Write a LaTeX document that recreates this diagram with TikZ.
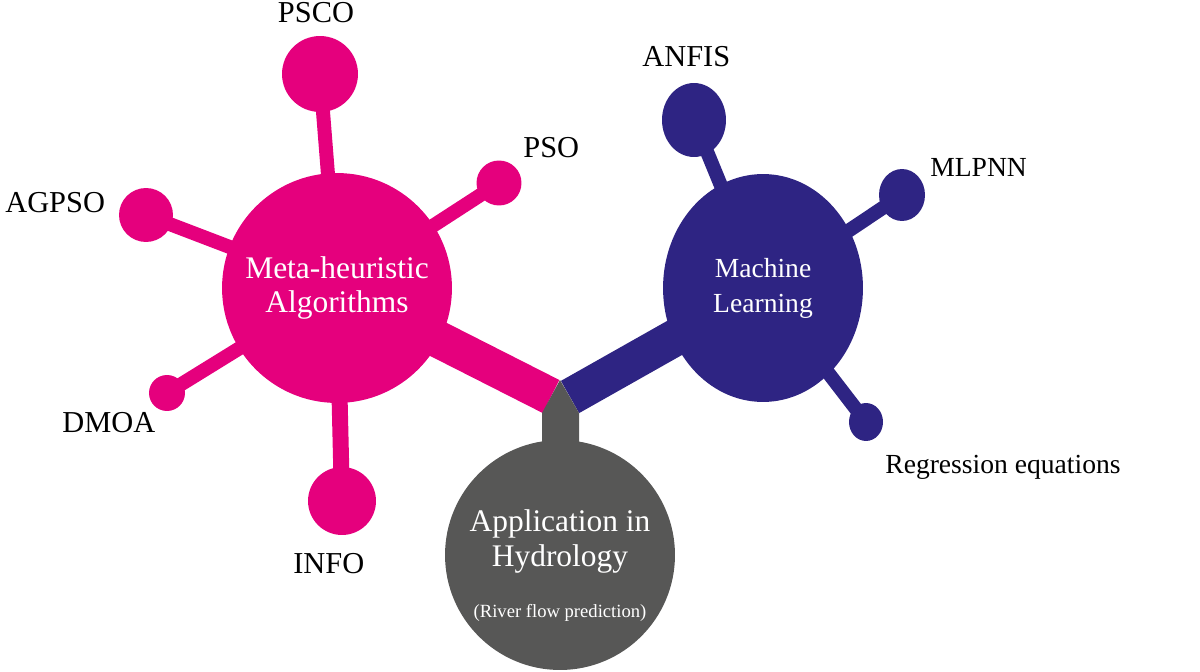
\documentclass[tikz,border=0pt]{standalone}
\usepackage{fontspec}
\setmainfont{Liberation Serif}
\usetikzlibrary{shapes.geometric}
\definecolor{pinkc}{HTML}{E5007D}
\definecolor{bluec}{HTML}{2E2483}
\definecolor{grayc}{HTML}{575756}
\pgfdeclarelayer{bg}
\pgfsetlayers{bg,main}
\newcommand{\txtbig}{\fontsize{17.9}{19.9}\selectfont}
\newcommand{\txtlbl}{\fontsize{17.3}{20}\selectfont}
\newcommand{\txtmid}{\fontsize{15.7}{19.9}\selectfont}
\newcommand{\txtsmall}{\fontsize{10.6}{12}\selectfont}

\begin{document}
\begin{tikzpicture}[x=0.02cm,y=-0.02cm,
  pdot/.style={circle,fill=pinkc,inner sep=0pt,minimum size=#1*0.04cm},
  bdot/.style 2 args={ellipse,fill=bluec,inner sep=0pt,minimum width=#1*0.04cm,minimum height=#2*0.04cm},
  stem/.style={line width=0.28cm},
  bar/.style={line width=0.74cm},
  lbl/.style={inner sep=0pt,font=\txtlbl},
  lblsm/.style={inner sep=0pt,font=\txtmid}]
\useasboundingbox (0,0) rectangle (1200,672);

% main hubs
\node[pdot=115,text=white,align=center,font=\txtbig] (meta) at (337,288) {Meta-heuristic\\Algorithms};
\node[bdot={100}{114},text=white,align=center,font=\txtmid] (ml) at (763,288) {Machine\\Learning};
\node[circle,fill=grayc,inner sep=0pt,minimum size=4.6cm] (app) at (560,555) {};
\node[text=white,align=center,font=\txtbig] (appT) at ([yshift=-0.22cm]app.center)
  {Application in\\Hydrology\\[9.1pt]{\txtsmall (River flow prediction)}};

% meta-heuristic leaves
\node[pdot=38] (psco) at (320,74) {};
\node[pdot=22.5] (pso) at (499,183) {};
\node[pdot=27] (agpso) at (146,215) {};
\node[pdot=18] (dmoa) at (167,393) {};
\node[pdot=34] (info) at (342,501) {};

% machine learning leaves
\node[bdot={32}{37}] (anfis) at (694,120) {};
\node[bdot={23}{26}] (mlpnn) at (902,195) {};
\node[bdot={17}{19}] (regr) at (866,422) {};

% junction
\coordinate (pend) at (551,396.5);
\coordinate (bend) at (570,397);

\begin{pgfonlayer}{bg}
\draw[bar,pinkc] (meta.center) -- (pend);
\draw[bar,bluec] (ml.center) -- (bend);
\fill[grayc] (560,380) -- (579,413) -- (579,460) -- (542,460) -- (542,413) -- cycle;
\draw[stem,pinkc] (meta.center) -- (psco.center);
\draw[stem,pinkc] (meta.center) -- (pso.center);
\draw[stem,pinkc] (meta.center) -- (agpso.center);
\draw[stem,pinkc] (meta.center) -- (dmoa.center);
\draw[stem,pinkc,line width=0.32cm] (meta.center) -- (info.center);
\draw[stem,bluec] (ml.center) -- (anfis.center);
\draw[stem,bluec] (ml.center) -- (mlpnn.center);
\draw[stem,bluec] (ml.center) -- (regr.center);
\end{pgfonlayer}

% labels
\node[lbl,anchor=base] (pscoL) at (316,23) {PSCO};
\node[lbl,anchor=base west] (psoL) at (523,158) {PSO};
\node[lbl,anchor=base west] (agpsoL) at (5,213) {AGPSO};
\node[lbl,anchor=base west] (dmoaL) at (62,432) {DMOA};
\node[lbl,anchor=base west] (infoL) at (293,573) {INFO};
\node[lbl,anchor=base west] (anfisL) at (642,67) {ANFIS};
\node[lblsm,anchor=base west] (mlpnnL) at (930,177) {MLPNN};
\node[lblsm,anchor=base west] (regrL) at (885,473) {Regression equations};
\end{tikzpicture}
\end{document}
